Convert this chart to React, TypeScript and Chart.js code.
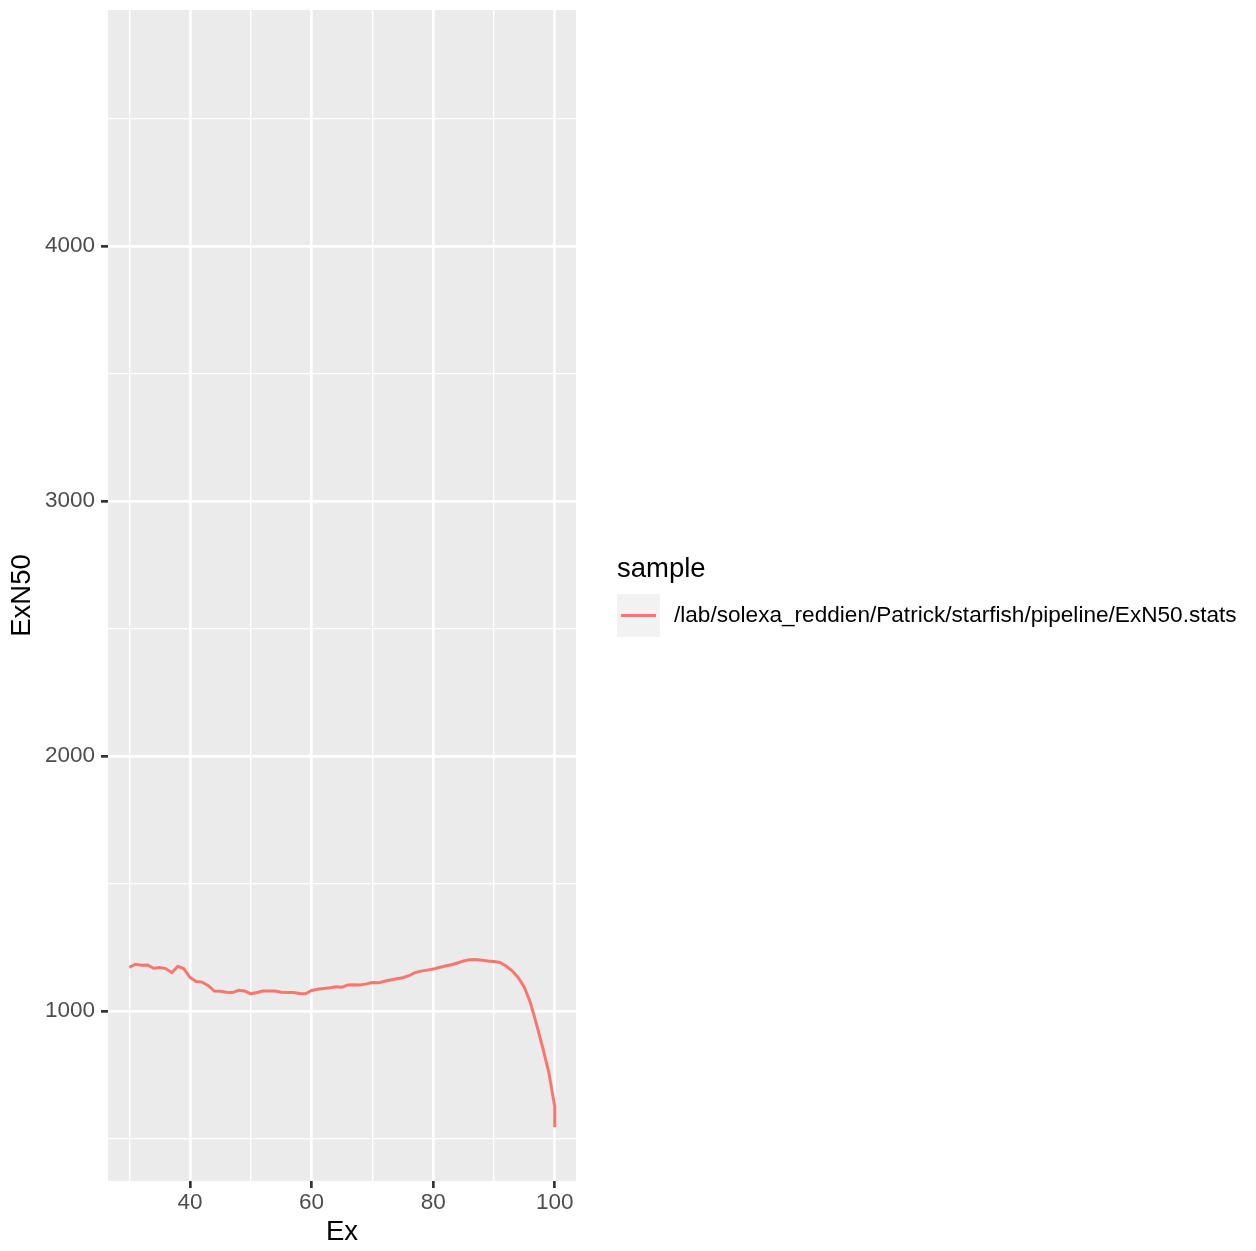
import React, { useEffect, useRef } from "react";
import { Chart, registerables } from "chart.js";

Chart.register(...registerables);

const exValues: number[] = [
  30, 31, 32, 33, 34, 35, 36, 37, 38, 39,
  40, 41, 42, 43, 44, 45, 46, 47, 48, 49,
  50, 51, 52, 53, 54, 55, 56, 57, 58, 59,
  60, 61, 62, 63, 64, 65, 66, 67, 68, 69,
  70, 71, 72, 73, 74, 75, 76, 77, 78, 79,
  80, 81, 82, 83, 84, 85, 86, 87, 88, 89,
  90, 91, 92, 93, 94, 95, 96, 97, 98, 99,
  100, 100,
];

const exn50Values: number[] = [
  1171, 1183, 1179, 1180, 1167, 1170, 1166, 1150, 1175, 1165,
  1131, 1115, 1113, 1099, 1078, 1077, 1073, 1072, 1081, 1078,
  1067, 1072, 1078, 1078, 1078, 1073, 1072, 1072, 1068, 1067,
  1080, 1085, 1088, 1091, 1095, 1093, 1102, 1103, 1102, 1106,
  1111, 1110, 1116, 1121, 1126, 1130, 1138, 1150, 1156, 1160,
  1164, 1170, 1176, 1181, 1188, 1196, 1201, 1202, 1199, 1196,
  1194, 1190, 1176, 1157, 1130, 1093, 1032, 948, 858, 762,
  625, 544,
];

const xTickValues: number[] = [30, 40, 50, 60, 70, 80, 90, 100];
const xMajorTicks: number[] = [40, 60, 80, 100];
const yTickValues: number[] = [500, 1000, 1500, 2000, 2500, 3000, 3500, 4000, 4500];
const yMajorTicks: number[] = [1000, 2000, 3000, 4000];

const seriesLabel = "/lab/solexa_reddien/Patrick/starfish/pipeline/ExN50.stats";
const legendTitle = "sample";
const xTitle = "Ex";
const yTitle = "ExN50";

const X_MIN = 26.5;
const X_MAX = 103.5;
const Y_MIN = 333;
const Y_MAX = 4925;

const LINE_COLOR = "#F8766D";
const FONT = "'Liberation Sans', Arial, sans-serif";

export default function App() {
  const canvasRef = useRef<HTMLCanvasElement | null>(null);

  useEffect(() => {
    if (!canvasRef.current) return;

    const decorPlugin = {
      id: "ggDecor",
      beforeDraw(chart: any) {
        const { ctx, chartArea } = chart;
        ctx.save();
        ctx.fillStyle = "#EBEBEB";
        ctx.fillRect(
          chartArea.left,
          chartArea.top,
          chartArea.right - chartArea.left,
          chartArea.bottom - chartArea.top
        );
        ctx.restore();
      },
      afterDraw(chart: any) {
        const { ctx, chartArea } = chart;
        ctx.save();
        // axis titles
        ctx.fillStyle = "#000000";
        ctx.font = `27.5px ${FONT}`;
        ctx.textAlign = "center";
        ctx.textBaseline = "middle";
        ctx.fillText(xTitle, (chartArea.left + chartArea.right) / 2, 1232);
        ctx.save();
        ctx.translate(22, (chartArea.top + chartArea.bottom) / 2);
        ctx.rotate(-Math.PI / 2);
        ctx.fillText(yTitle, 0, 0);
        ctx.restore();

        // legend
        ctx.textAlign = "left";
        ctx.font = `27.5px ${FONT}`;
        ctx.fillText(legendTitle, 617, 569);
        ctx.fillStyle = "#F2F2F2";
        ctx.fillRect(617, 594, 43, 43);
        ctx.strokeStyle = LINE_COLOR;
        ctx.lineWidth = 3;
        ctx.beginPath();
        ctx.moveTo(621, 615.5);
        ctx.lineTo(656, 615.5);
        ctx.stroke();
        ctx.fillStyle = "#000000";
        ctx.font = `22.6px ${FONT}`;
        ctx.fillText(seriesLabel, 674, 616);
        ctx.restore();
      },
    };

    const chart = new Chart(canvasRef.current, {
      type: "line",
      data: {
        datasets: [
          {
            label: seriesLabel,
            data: exValues.map((x, i) => ({ x, y: exn50Values[i] })),
            borderColor: LINE_COLOR,
            borderWidth: 3,
            pointRadius: 0,
            tension: 0,
            fill: false,
          },
        ],
      },
      options: {
        animation: false,
        responsive: true,
        maintainAspectRatio: false,
        devicePixelRatio: 1,
        layout: { padding: { left: 0, top: 10, right: 680, bottom: 0 } },
        plugins: {
          legend: { display: false },
          tooltip: { enabled: false },
        },
        scales: {
          x: {
            type: "linear",
            min: X_MIN,
            max: X_MAX,
            afterBuildTicks: (scale: any) => {
              scale.ticks = xTickValues.map((v) => ({ value: v }));
            },
            afterFit: (scale: any) => {
              scale.height = 70;
              scale.paddingLeft = 0;
              scale.paddingRight = 0;
            },
            border: { display: false },
            grid: {
              color: "#FFFFFF",
              lineWidth: (c: any) => (xMajorTicks.includes(c.tick?.value) ? 2.7 : 1.35),
              tickColor: (c: any) => (xMajorTicks.includes(c.tick?.value) ? "#333333" : "rgba(0,0,0,0)"),
              tickLength: 7,
              tickWidth: 2.7,
            },
            ticks: {
              autoSkip: false,
              maxRotation: 0,
              padding: 1,
              color: "#4D4D4D",
              font: { family: FONT, size: 22.5 },
              callback: (v: any) => (xMajorTicks.includes(Number(v)) ? String(v) : ""),
            },
          },
          y: {
            type: "linear",
            min: Y_MIN,
            max: Y_MAX,
            afterBuildTicks: (scale: any) => {
              scale.ticks = yTickValues.map((v) => ({ value: v }));
            },
            afterFit: (scale: any) => {
              scale.width = 108;
              scale.paddingTop = 0;
              scale.paddingBottom = 0;
            },
            border: { display: false },
            grid: {
              color: "#FFFFFF",
              lineWidth: (c: any) => (yMajorTicks.includes(c.tick?.value) ? 2.7 : 1.35),
              tickColor: (c: any) => (yMajorTicks.includes(c.tick?.value) ? "#333333" : "rgba(0,0,0,0)"),
              tickLength: 7,
              tickWidth: 2.7,
            },
            ticks: {
              autoSkip: false,
              padding: 6,
              color: "#4D4D4D",
              font: { family: FONT, size: 22.5 },
              callback: (v: any) => (yMajorTicks.includes(Number(v)) ? String(v) : ""),
            },
          },
        },
      },
      plugins: [decorPlugin],
    } as any);

    return () => {
      chart.destroy();
    };
  }, []);

  return (
    <div style={{ position: "absolute", left: 0, top: 0, width: 1256, height: 1251 }}>
      <canvas ref={canvasRef} />
    </div>
  );
}
